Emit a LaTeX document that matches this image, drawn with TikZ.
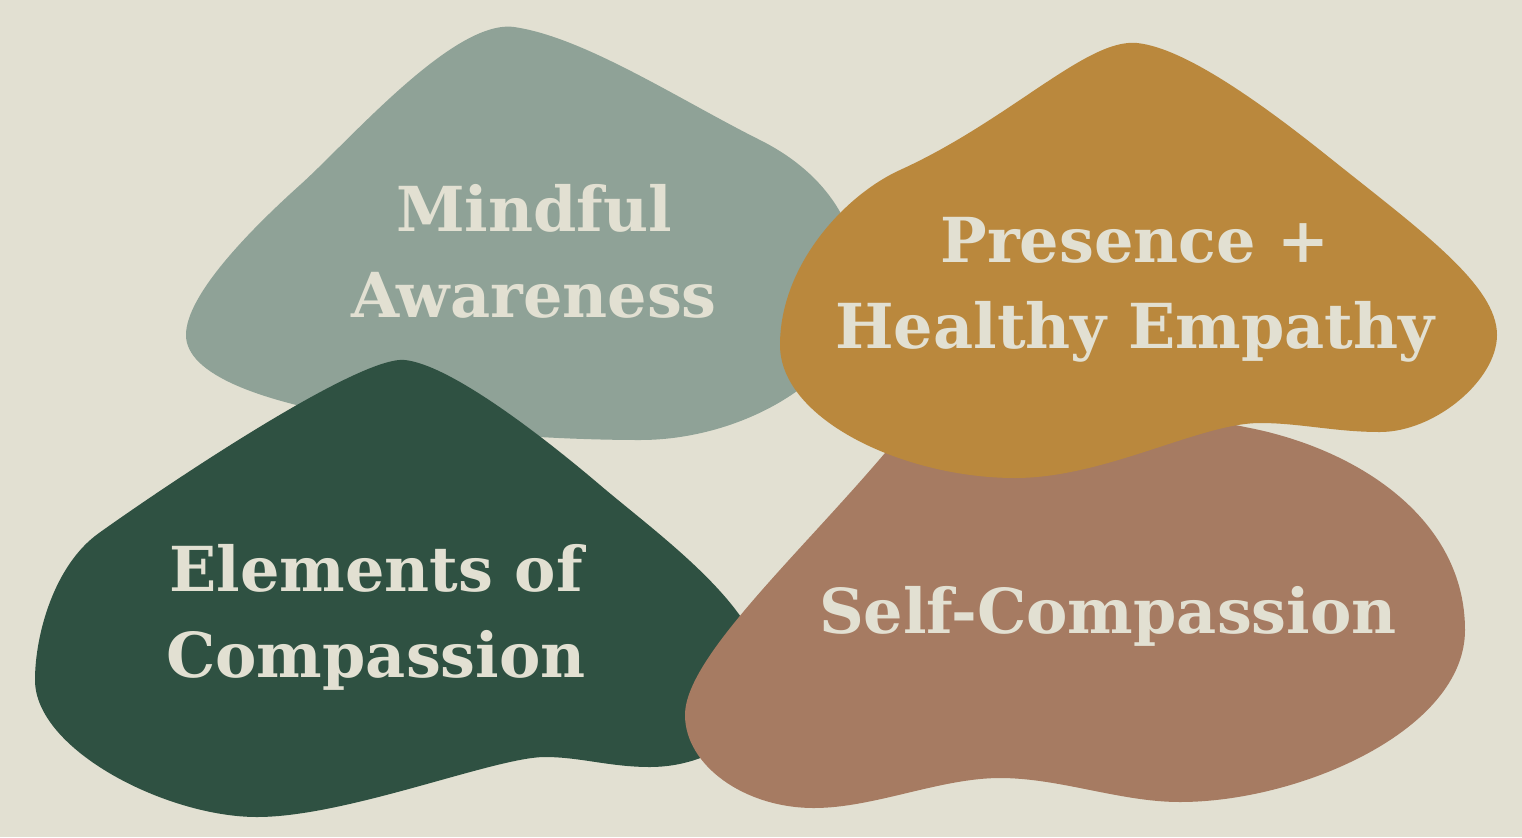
\documentclass[tikz,border=0pt]{standalone}
\usepackage{fontspec}
\setmainfont{DejaVu Serif}
\usepackage{tikz}
\usetikzlibrary{positioning}

\definecolor{paper}{HTML}{E2E0D2}
\definecolor{sage}{HTML}{8FA297}
\definecolor{ochre}{HTML}{BA883D}
\definecolor{pine}{HTML}{2F5142}
\definecolor{clay}{HTML}{A67B62}

\begin{document}
\begin{tikzpicture}[
    x=0.5pt, y=-0.5pt,
    lbl/.style={align=center, text=paper, inner sep=0pt,
                font=\fontsize{31}{43}\selectfont\bfseries}
  ]

  \fill[paper] (0,0) rectangle (1522,837);

  % sage blob
  \fill[sage] (514,27) .. controls +(70,10) and +(-80,-40) .. (760,140)
    .. controls +(60,30) and +(0,-70) .. (860,290)
    .. controls +(0,80) and +(110,0) .. (640,440)
    .. controls +(-150,0) and +(0,80) .. (186,335)
    .. controls +(0,-40) and +(-50,45) .. (300,185)
    .. controls +(50,-45) and +(-60,-8) .. (514,27) -- cycle;

  % pine blob
  \fill[pine] (405,360) .. controls +(45,5) and +(-60,-51) .. (600,485)
    .. controls +(60,51) and +(0,-70) .. (765,680)
    .. controls +(0,50) and +(60,0) .. (650,767)
    .. controls +(-40,0) and +(35,0) .. (545,757)
    .. controls +(-50,0) and +(90,0) .. (257,817)
    .. controls +(-90,0) and +(0,70) .. (35,680)
    .. controls +(0,-45) and +(-45,32) .. (99,533)
    .. controls +(70,-50) and +(-45,-5) .. (405,360) -- cycle;

  % clay blob
  \fill[clay] (900,435) .. controls +(-90,110) and +(0,-60) .. (685,715)
    .. controls +(0,50) and +(-70,0) .. (814,808)
    .. controls +(60,0) and +(-60,0) .. (1000,778)
    .. controls +(60,0) and +(-60,0) .. (1180,802)
    .. controls +(120,0) and +(0,100) .. (1465,630)
    .. controls +(0,-110) and +(110,22) .. (1250,428)
    .. controls +(-110,-22) and +(60,-73) .. (900,435) -- cycle;

  % ochre blob
  \fill[ochre] (1137,43) .. controls +(50,5) and +(-60,-48) .. (1330,158)
    .. controls +(90,72) and +(0,-50) .. (1497,335)
    .. controls +(0,45) and +(55,0) .. (1380,432)
    .. controls +(-45,0) and +(40,0) .. (1260,423)
    .. controls +(-60,0) and +(90,0) .. (1015,478)
    .. controls +(-110,0) and +(0,75) .. (780,345)
    .. controls +(0,-80) and +(-55,25) .. (900,170)
    .. controls +(110,-50) and +(-50,-5) .. (1137,43) -- cycle;

  \node[lbl] (mindful) at (534,251) {Mindful\\Awareness};
  \node[lbl] (presence) at (1135,290) {Presence +\\Healthy Empathy};
  \node[lbl] (elements) at (376,617) {Elements of\\Compassion};
  \node[lbl] (self) at (1108,616) {Self-Compassion};

\end{tikzpicture}
\end{document}
